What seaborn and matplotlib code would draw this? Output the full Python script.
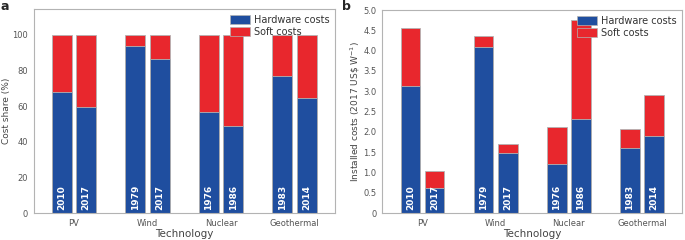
import numpy as np
import pandas as pd
import seaborn as sns
import matplotlib.pyplot as plt
from matplotlib.patches import Patch

technologies = ["PV", "Wind", "Nuclear", "Geothermal"]
years = [["2010", "2017"], ["1979", "2017"], ["1976", "1986"], ["1983", "2014"]]

# panel a: cost share (%)
share_hardware = [[68, 59.5], [93.5, 86.5], [56.5, 49], [77, 64.5]]
# panel b: installed costs (2017 US$ per W)
cost_hardware = [[3.12, 0.62], [4.08, 1.49], [1.20, 2.33], [1.60, 1.89]]
cost_total = [[4.57, 1.03], [4.36, 1.71], [2.12, 4.75], [2.08, 2.92]]

BLUE = "#1f4e9f"
RED = "#e8272d"
GREY = "#b3b3b3"


def make_df(hw, tot):
    rows = []
    for t, tech in enumerate(technologies):
        for k in range(2):
            rows.append({"tech": tech, "slot": k, "year": years[t][k],
                         "hardware": hw[t][k], "total": tot[t][k]})
    return pd.DataFrame(rows)


def draw_panel(ax, df, ylim, yticks, yticklabels, ylabel):
    for col, c in [("total", RED), ("hardware", BLUE)]:
        sns.barplot(data=df, x="tech", y=col, hue="slot", order=technologies,
                    palette=[c, c], saturation=1, width=0.66, gap=0.18, dodge=True,
                    edgecolor=GREY, linewidth=0.6, legend=False, ax=ax, errorbar=None)
    # year labels inside bars
    n = len(technologies)
    patches = sorted(ax.patches[2 * n:], key=lambda q: q.get_x())
    for i, p in enumerate(patches):
        t, k = divmod(i, 2)
        ax.text(p.get_x() + p.get_width() / 2, ylim[1] * 0.015, years[t][k],
                rotation=90, ha="center", va="bottom", color="white",
                fontsize=6.5, fontweight="bold")
    ax.set_ylim(*ylim)
    ax.set_xlim(-0.55, n - 0.45)
    ax.set_yticks(yticks)
    ax.set_yticklabels(yticklabels)
    ax.set_xlabel("Technology", fontsize=7.5, color="#444444", labelpad=1)
    ax.set_ylabel(ylabel, fontsize=6.5, color="#444444", labelpad=1)
    ax.tick_params(axis="both", labelsize=6, labelcolor="#555555", length=2.5,
                   width=0.6, pad=1.5, color=GREY)
    for s in ax.spines.values():
        s.set_visible(True)
        s.set_color(GREY)
        s.set_linewidth(0.8)
    ax.legend(handles=[Patch(facecolor=BLUE, edgecolor=GREY, lw=0.5, label="Hardware costs"),
                       Patch(facecolor=RED, edgecolor=GREY, lw=0.5, label="Soft costs")],
              loc="upper right", frameon=False, fontsize=7, handlelength=2.0,
              handleheight=1.0, handletextpad=0.4, labelspacing=0.2,
              borderaxespad=0.2, labelcolor="#333333")


sns.set_theme(style="white")
plt.rcParams["font.family"] = ["DejaVu Sans"]

fig = plt.figure(figsize=(6.85, 2.4), dpi=100)
ax_a = fig.add_axes([0.049, 0.112, 0.440, 0.851])
ax_b = fig.add_axes([0.558, 0.112, 0.438, 0.846])

df_a = make_df(share_hardware, [[100, 100]] * 4)
draw_panel(ax_a, df_a, (0, 114.5), [0, 20, 40, 60, 80, 100],
           ["0", "20", "40", "60", "80", "100"], "Cost share (%)")

df_b = make_df(cost_hardware, cost_total)
bt = [0, 0.5, 1.0, 1.5, 2.0, 2.5, 3.0, 3.5, 4.0, 4.5, 5.0]
draw_panel(ax_b, df_b, (0, 5.0), bt, ["0"] + [f"{v:.1f}" for v in bt[1:]],
           "Installed costs (2017 US\\$ W$^{-1}$)")

fig.text(0.001, 0.975, "a", fontsize=9, fontweight="bold", va="center", ha="left")
fig.text(0.499, 0.975, "b", fontsize=9, fontweight="bold", va="center", ha="left")

fig.savefig("out.png", dpi=100)
